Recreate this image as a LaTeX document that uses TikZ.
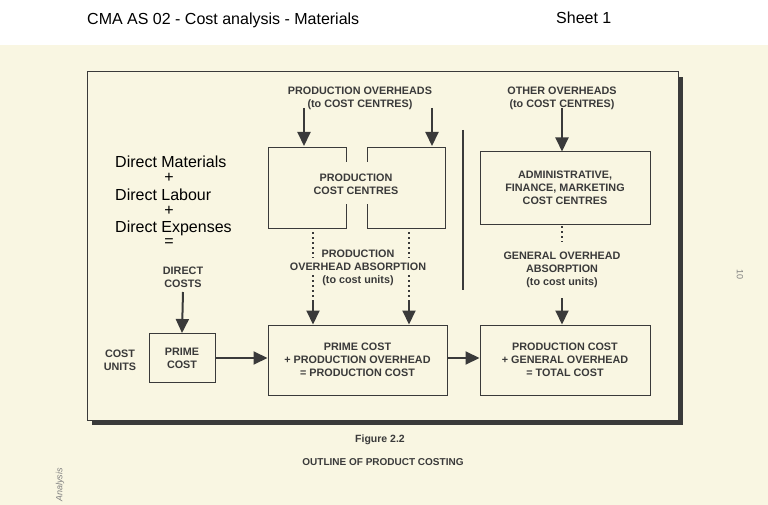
\documentclass[tikz,border=0pt]{standalone}
\usepackage{fontspec}
\setmainfont{Liberation Sans}
\usetikzlibrary{arrows.meta}
\definecolor{paper}{HTML}{F9F6E2}
\definecolor{ink}{HTML}{3A3A3A}
\begin{document}
\begin{tikzpicture}[x=1pt,y=-1pt,
  box/.style={draw=ink,line width=1pt},
  small/.style={font=\fontsize{10.8}{13}\selectfont\bfseries,text=ink,align=center,inner sep=0pt},
  big/.style={font=\fontsize{16}{18}\selectfont,inner sep=0pt},
  arr/.style={draw=ink,line width=2pt,-{Triangle[width=13pt,length=14pt]}},
  dotl/.style={draw=ink,line width=2pt,dash pattern=on 2pt off 3pt}]
\fill[white] (0,0) rectangle (768,505);
\fill[paper] (0,45) rectangle (768,505);
\useasboundingbox (0,0) rectangle (768,505);
\node[font=\fontsize{16}{18}\selectfont,anchor=west,inner sep=0pt] (title) at (87,20) {CMA AS 02 - Cost analysis - Materials};
\node[font=\fontsize{16}{18}\selectfont,anchor=west,inner sep=0pt] (sheet) at (556,18) {Sheet 1};
% frame
\fill[ink] (92,77) rectangle (683,425);
\draw[box,fill=paper] (87,72) rectangle (678,420);
% left text
\node[big,anchor=west] (dm) at (115,162) {Direct Materials};
\node[big] (p1) at (169,178) {+};
\node[big,anchor=west] (dl) at (115,195) {Direct Labour};
\node[big] (p2) at (169,211) {+};
\node[big,anchor=west] (de) at (115,228) {Direct Expenses};
\node[big] (eq) at (169,243) {=};
\node[small] (dc) at (183,277) {DIRECT\\COSTS};
\coordinate (dca) at (183,292);
\node[small,anchor=center] (cu) at (120,360) {COST\\UNITS};
\node[box,small,minimum width=66pt,minimum height=49pt,inner sep=0pt] (prime) at (182,358) {PRIME\\COST};
\draw[arr] (dca) -- (prime.north);
% production cost box
\node[box,small,minimum width=179pt,minimum height=70pt] (pc) at (357.5,360) {PRIME COST\\+ PRODUCTION OVERHEAD\\= PRODUCTION COST};
\node[box,small,minimum width=170pt,minimum height=70pt] (tc) at (565,360) {PRODUCTION COST\\+ GENERAL OVERHEAD\\= TOTAL COST};
\draw[arr] (prime.east) -- (pc.west |- prime.east);
\draw[arr] (pc.east |- prime.east) -- (tc.west |- prime.east);
% top texts
\node[small] (po) at (360,98) {PRODUCTION OVERHEADS\\(to COST CENTRES)};
\node[small] (oo) at (562,98) {OTHER OVERHEADS\\(to COST CENTRES)};
\coordinate (pa1) at (304,108); \coordinate (pa1e) at (304,146);
\coordinate (pa2) at (432,108); \coordinate (pa2e) at (432,146);
\coordinate (oa) at (562,108);
\draw[arr] (pa1) -- (pa1e);
\draw[arr] (pa2) -- (pa2e);
% production cost centres (split box)
\node[small] (pcc) at (356,184) {PRODUCTION\\COST CENTRES};
\draw[box] (346,162) -- (346,148) -- (268,148) -- (268,228) -- (346,228) -- (346,204);
\draw[box] (367,162) -- (367,148) -- (445,148) -- (445,228) -- (367,228) -- (367,204);
% separator
\coordinate (s1) at (463,130); \coordinate (s2) at (463,290);
\draw[ink,line width=2.5pt] (s1) -- (s2);
% admin box
\node[box,small,minimum width=170pt,minimum height=72pt] (adm) at (565,188) {ADMINISTRATIVE,\\FINANCE, MARKETING\\COST CENTRES};
\draw[arr] (oa) -- (adm.north -| oa);
% absorption
\node[small] (pa) at (358,268) {PRODUCTION\\OVERHEAD ABSORPTION\\(to cost units)};
\coordinate (d1a) at (313,232); \coordinate (d1b) at (313,258);
\coordinate (d1d) at (313,275); \coordinate (d1b2) at (313,298); \coordinate (d1c) at (313,300);
\coordinate (d2a) at (409,232); \coordinate (d2b) at (409,258);
\coordinate (d2d) at (409,275); \coordinate (d2b2) at (409,298); \coordinate (d2c) at (409,300);
\draw[dotl] (d1a) -- (d1b);
\draw[dotl] (d2a) -- (d2b);
\draw[dotl] (d1d) -- (d1b2);
\draw[dotl] (d2d) -- (d2b2);
\draw[arr] (d1c) -- (pc.north -| d1c);
\draw[arr] (d2c) -- (pc.north -| d2c);
\node[small] (ga) at (562,270) {GENERAL OVERHEAD\\ABSORPTION\\(to cost units)};
\coordinate (g1) at (562,226); \coordinate (g2) at (562,242);
\draw[dotl] (g1) -- (g2);
\coordinate (g3) at (562,298);
\draw[arr] (g3) -- (tc.north -| g3);
% captions
\node[font=\fontsize{10.5}{12}\selectfont\bfseries,text=ink] (fig) at (380,440) {Figure 2.2};
\node[font=\fontsize{10}{11}\selectfont\bfseries,text=ink] (out) at (383,462) {OUTLINE OF PRODUCT COSTING};
\node[rotate=-90,font=\fontsize{9}{10}\selectfont,text=gray] (ten) at (740,275) {10};
\node[rotate=90,font=\fontsize{9}{10}\selectfont\itshape,text=gray] (an) at (60,485) {Analysis};
\end{tikzpicture}
\end{document}
